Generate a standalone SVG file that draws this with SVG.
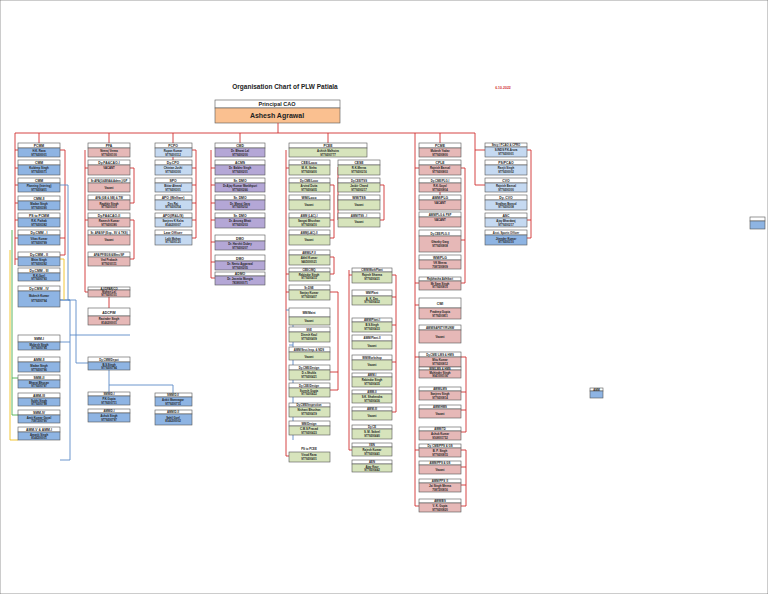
<svg xmlns="http://www.w3.org/2000/svg" width="768" height="594" viewBox="0 0 768 594">
<style>
rect{stroke:#555;stroke-width:.6}
.t{fill:#fff}.b{fill:#8EB4E3}.p{fill:#E6B8B7}.l{fill:#C5D9F1}.v{fill:#B4A7D6}.g{fill:#D7E4BC}.o{fill:#FAC090}
text{font-family:"Liberation Sans",Arial,sans-serif;font-weight:bold;text-anchor:middle;fill:#222}
.s{font-size:3.4px}.x{font-size:2.8px}
.c path{fill:none;stroke:#D03030;stroke-width:.9}
.c .bl{stroke:#5B8BC7}.c .gr{stroke:#4CAF50}.c .ye{stroke:#F0C020}
</style>
<rect width="768" height="594" fill="#fff" stroke="none"/>
<text x="285" y="89" style="font-size:6.5px">Organisation Chart of PLW Patiala</text>
<text x="503" y="89" style="font-size:3.5px;fill:#D03030">6.10.2022</text>
<g id="cao"><rect class="t" x="215" y="100" width="125" height="8"/><rect class="o" x="215" y="108" width="125" height="15"/><text x="277" y="106" style="font-size:5.5px">Principal CAO</text><text x="277" y="118" style="font-size:7px">Ashesh Agrawal</text></g>
<g class="c">
<path d="M278,123V133M15,133H475M39,133V143M109,133V143M173,133V143M240,133V143M328,133V143M440,133V143"/>
<path d="M15,133V265M15,150H18M15,168H18M15,185H18M15,203H18M15,220H18M15,238H18M15,259H18"/>
<path d="M60,150H65V255H60M60,238H65"/>
<path d="M85,150V292H88M85,168H88M85,220H88M130,168H134V203H130M130,220H134V259H130M109,297V308"/>
<path d="M192,150H196V238H192M192,168H196M192,185H196M192,203H196M192,220H196M173,157V160"/>
<path d="M211,150V278H215M211,168H215M211,185H215M211,203H215M211,220H215M211,242H215M211,262H215"/>
<path d="M286,150V456H289M286,168H289M286,274H289M286,292H289M330,185H334V238H330M330,220H334M330,257H334V274H330"/>
<path d="M330,292H338V390H330M330,372H338M338,167V220H338M380,185H384V220H380"/>
<path d="M349,270V450H352M349,275H352M392,275H396V412H392M392,297H396M392,325H396M392,362H396"/>
<path d="M415,133V506H419M415,168H419M415,283H419M415,305H419M415,357H419M415,450H419M461,168H465V283H461M461,240H465M440,185V195M461,357H466V432H461M461,392H466M461,410H466M461,450H466V506H461M461,467H466M461,485H466"/>
<path d="M475,133V185H485M475,150H485M527,150H531V238H527M527,220H531"/>
<path class="bl" d="M60,185H68V300H70V460H60M60,300H70M60,342H70M130,335H70M88,363H76V300H60M109,370V385H173V397M109,385V392"/>
<path class="gr" d="M12,230V415H18M12,378H18"/>
<path class="ye" d="M60,259H64V300M10,250V440H18"/>
<path class="bl" d="M286,310H293V440M289,345H293M289,373H293"/>
</g>
<g id="n1"><rect class="t" x="18" y="143" width="42" height="5"/><rect class="b" x="18" y="148" width="42" height="9"/><text class="s" x="39" y="147">PCMM</text><text class="x" x="39" y="152">H.K. Rana</text><text class="x" x="39" y="155.5">9779200001</text></g>
<g id="n2"><rect class="t" x="18" y="160" width="42" height="5"/><rect class="b" x="18" y="165" width="42" height="10"/><text class="s" x="39" y="164">CMM</text><text class="x" x="39" y="169">Kuldeep Singh</text><text class="x" x="39" y="173">9779200071</text></g>
<g id="n3"><rect class="t" x="18" y="178" width="42" height="5"/><rect class="b" x="18" y="183" width="42" height="9"/><text class="s" x="39" y="182">CMM</text><text class="x" x="39" y="187">Planning (Intering)</text><text class="x" x="39" y="190.5">9779200401</text></g>
<g id="n4"><rect class="t" x="18" y="196" width="42" height="5"/><rect class="b" x="18" y="201" width="42" height="9"/><text class="s" x="39" y="200">CMM-II</text><text class="x" x="39" y="205">Madan Singh</text><text class="x" x="39" y="208.5">9779200390</text></g>
<g id="n5"><rect class="t" x="18" y="213" width="42" height="5"/><rect class="b" x="18" y="218" width="42" height="9"/><text class="s" x="39" y="217">PS to PCMM</text><text class="x" x="39" y="222">R.K. Pathak</text><text class="x" x="39" y="225.5">9779200382</text></g>
<g id="n6"><rect class="t" x="18" y="230" width="42" height="5"/><rect class="b" x="18" y="235" width="42" height="10"/><text class="s" x="39" y="234">Dy.CMM - I</text><text class="x" x="39" y="240">Vikas Kumar</text><text class="x" x="39" y="243.5">9779200799</text></g>
<g id="n7"><rect class="t" x="18" y="252" width="42" height="5"/><rect class="b" x="18" y="257" width="42" height="9"/><text class="s" x="39" y="256">Dy.CMM - II</text><text class="x" x="39" y="261">Bhim Singh</text><text class="x" x="39" y="264.5">9779200392</text></g>
<g id="n8"><rect class="t" x="18" y="268" width="42" height="5"/><rect class="b" x="18" y="273" width="42" height="8"/><text class="s" x="39" y="272">Dy.CMM - III</text><text class="x" x="39" y="277">R.K.Goel</text><text class="x" x="39" y="280">9779200793</text></g>
<g id="n9"><rect class="t" x="18" y="286" width="42" height="5"/><rect class="b" x="18" y="291" width="42" height="16"/><text class="s" x="39" y="290">Dy.CMM - IV</text><text class="x" x="39" y="297">Mukesh Kumar</text><text class="x" x="39" y="302">9779200794</text></g>
<g id="n10"><rect class="t" x="18" y="335" width="42" height="7"/><rect class="b" x="18" y="342" width="42" height="8"/><text class="s" x="39" y="340">SMM-I</text><text class="x" x="39" y="345.5">Mukesh Singh</text><text class="x" x="39" y="349">9779200795</text></g>
<g id="n11"><rect class="t" x="18" y="357" width="42" height="5"/><rect class="b" x="18" y="362" width="42" height="10"/><text class="s" x="39" y="361">AMM-II</text><text class="x" x="39" y="367">Madan Singh</text><text class="x" x="39" y="370.5">9779200796</text></g>
<g id="n12"><rect class="t" x="18" y="375" width="42" height="5"/><rect class="b" x="18" y="380" width="42" height="8"/><text class="s" x="39" y="379">SMM-II</text><text class="x" x="39" y="383.5">Bharat Bhusan</text><text class="x" x="39" y="387">9779200797</text></g>
<g id="n13"><rect class="t" x="18" y="393" width="42" height="5"/><rect class="b" x="18" y="398" width="42" height="8"/><text class="s" x="39" y="397">AMM-III</text><text class="x" x="39" y="401.5">Sukhi Singh</text><text class="x" x="39" y="405">9779200798</text></g>
<g id="n14"><rect class="t" x="18" y="410" width="42" height="5"/><rect class="b" x="18" y="415" width="42" height="8"/><text class="s" x="39" y="414">SMM-IV</text><text class="x" x="39" y="418.5">Amit Kumar Goyal</text><text class="x" x="39" y="422">7087200790</text></g>
<g id="n15"><rect class="t" x="18" y="427" width="42" height="5"/><rect class="b" x="18" y="432" width="42" height="8"/><text class="s" x="39" y="431">AMM-V &amp; AMM-I</text><text class="x" x="39" y="435.5">Amarjit Singh</text><text class="x" x="39" y="439">8146200001</text></g>
<g id="n16"><rect class="t" x="88" y="143" width="42" height="5"/><rect class="p" x="88" y="148" width="42" height="9"/><text class="s" x="109" y="147">PFA</text><text class="x" x="109" y="152">Neeraj Verma</text><text class="x" x="109" y="155.5">9779200100</text></g>
<g id="n17"><rect class="t" x="88" y="160" width="42" height="5"/><rect class="p" x="88" y="165" width="42" height="10"/><text class="s" x="109" y="164">Dy.FA&amp;CAO-I</text><text class="x" x="109" y="169">VACANT</text></g>
<g id="n18"><rect class="t" x="88" y="178" width="42" height="5"/><rect class="p" x="88" y="183" width="42" height="9"/><text class="x" x="109" y="182">Sr.AFA(G&amp;BSA&amp;Admn.)/GP</text><text class="x" x="109" y="188.5">Vacant</text></g>
<g id="n19"><rect class="t" x="88" y="195" width="42" height="5"/><rect class="p" x="88" y="200" width="42" height="10"/><text class="x" x="109" y="199">AFA (GB &amp; SB) &amp; TW</text><text class="x" x="109" y="204.5">Raghbir Singh</text><text class="x" x="109" y="208">9779200110</text></g>
<g id="n20"><rect class="t" x="88" y="213" width="42" height="5"/><rect class="p" x="88" y="218" width="42" height="9"/><text class="s" x="109" y="217">Dy.FA&amp;CAO-II</text><text class="x" x="109" y="222">Ramesh Kumar</text><text class="x" x="109" y="225.5">9779200380</text></g>
<g id="n21"><rect class="t" x="88" y="230" width="42" height="5"/><rect class="p" x="88" y="235" width="42" height="10"/><text class="x" x="109" y="234">Sr. AFA/SF (Exp., SV &amp; TKS)</text><text class="x" x="109" y="241">Vacant</text></g>
<g id="n22"><rect class="t" x="88" y="252" width="42" height="5"/><rect class="p" x="88" y="257" width="42" height="9"/><text class="x" x="109" y="256">AFA/PF/EGS/&amp;Wms/SF</text><text class="x" x="109" y="261">Ved Prakash</text><text class="x" x="109" y="264.5">9779200111</text></g>
<g id="n23"><rect class="t" x="88" y="287" width="42" height="3"/><rect class="p" x="88" y="290" width="42" height="7"/><text class="x" x="109" y="289.5">A-I/DPAR/CO</text><text class="x" x="109" y="293">Mohan Lal</text><text class="x" x="109" y="296">9779200101</text></g>
<g id="n24"><rect class="t" x="88" y="308" width="42" height="8"/><rect class="p" x="88" y="316" width="42" height="9"/><text class="s" x="109" y="314">ADCP/M</text><text class="x" x="109" y="320">Ravinder Singh</text><text class="x" x="109" y="323.5">8146200001</text></g>
<g id="n25"><rect class="t" x="88" y="357" width="42" height="5"/><rect class="b" x="88" y="362" width="42" height="8"/><text class="x" x="109" y="361">Dy.CMM/Depot</text><text class="x" x="109" y="365.5">B.S.Singh</text><text class="x" x="109" y="369">9779200794</text></g>
<g id="n26"><rect class="t" x="88" y="392" width="42" height="4"/><rect class="b" x="88" y="396" width="42" height="9"/><text class="x" x="109" y="395">SMM/D-I</text><text class="x" x="109" y="400">P.K.Gupta</text><text class="x" x="109" y="403.5">9779200711</text></g>
<g id="n27"><rect class="t" x="88" y="409" width="42" height="4"/><rect class="b" x="88" y="413" width="42" height="9"/><text class="x" x="109" y="412">AMM/D-I</text><text class="x" x="109" y="417">Ashok Singh</text><text class="x" x="109" y="420.5">9779200797</text></g>
<g id="n28"><rect class="t" x="155" y="393" width="37" height="4"/><rect class="b" x="155" y="397" width="37" height="9"/><text class="x" x="173" y="396">SMM/D-II</text><text class="x" x="173" y="401">Ankit Mamnagar</text><text class="x" x="173" y="404.5">9779200715</text></g>
<g id="n29"><rect class="t" x="155" y="410" width="37" height="4"/><rect class="b" x="155" y="414" width="37" height="11"/><text class="x" x="173" y="413">AMM/D-II</text><text class="x" x="173" y="418.5">Sahil Goel</text><text class="x" x="173" y="422">8146200002</text></g>
<g id="n30"><rect class="t" x="155" y="143" width="37" height="5"/><rect class="l" x="155" y="148" width="37" height="9"/><text class="s" x="173" y="147">PCPO</text><text class="x" x="173" y="152">Rupan Kumar</text><text class="x" x="173" y="155.5">9779200112</text></g>
<g id="n31"><rect class="t" x="155" y="160" width="37" height="5"/><rect class="l" x="155" y="165" width="37" height="10"/><text class="s" x="173" y="164">Dy.CPO</text><text class="x" x="173" y="169">Chintan Joshi</text><text class="x" x="173" y="173">9779200300</text></g>
<g id="n32"><rect class="t" x="155" y="178" width="37" height="5"/><rect class="l" x="155" y="183" width="37" height="9"/><text class="s" x="173" y="182">SPO</text><text class="x" x="173" y="187">Bittar Ahmed</text><text class="x" x="173" y="190.5">9779200301</text></g>
<g id="n33"><rect class="t" x="155" y="195" width="37" height="5"/><rect class="l" x="155" y="200" width="37" height="10"/><text class="s" x="173" y="199">APO (Welfare)</text><text class="x" x="173" y="204.5">Des Raj</text><text class="x" x="173" y="208">9779200304</text></g>
<g id="n34"><rect class="t" x="155" y="213" width="37" height="5"/><rect class="l" x="155" y="218" width="37" height="9"/><text class="s" x="173" y="217">APO(IR&amp;L/S)</text><text class="x" x="173" y="222">Sanjeev K Kalra</text><text class="x" x="173" y="225.5">8146200007</text></g>
<g id="n35"><rect class="t" x="155" y="230" width="37" height="5"/><rect class="l" x="155" y="235" width="37" height="10"/><text class="s" x="173" y="234">Law Officer</text><text class="x" x="173" y="239.5">Lalit Mohan</text><text class="x" x="173" y="243">9779200120</text></g>
<g id="n36"><rect class="t" x="215" y="143" width="50" height="5"/><rect class="v" x="215" y="148" width="50" height="9"/><text class="s" x="240" y="147">CMD</text><text class="x" x="240" y="152">Dr. Bharat Lal</text><text class="x" x="240" y="155.5">9779200200</text></g>
<g id="n37"><rect class="t" x="215" y="160" width="50" height="5"/><rect class="v" x="215" y="165" width="50" height="10"/><text class="s" x="240" y="164">ACMS</text><text class="x" x="240" y="169">Dr. Baldev Singh</text><text class="x" x="240" y="173">9779200201</text></g>
<g id="n38"><rect class="t" x="215" y="178" width="50" height="5"/><rect class="v" x="215" y="183" width="50" height="9"/><text class="s" x="240" y="182">Sr. DMO</text><text class="x" x="240" y="187">Dr.Ajay Kumar Mankhpuri</text><text class="x" x="240" y="190.5">9779200266</text></g>
<g id="n39"><rect class="t" x="215" y="195" width="50" height="5"/><rect class="v" x="215" y="200" width="50" height="10"/><text class="s" x="240" y="199">Sr. DMO</text><text class="x" x="240" y="204.5">Dr. Manoj Garg</text><text class="x" x="240" y="208">9779200202</text></g>
<g id="n40"><rect class="t" x="215" y="213" width="50" height="5"/><rect class="v" x="215" y="218" width="50" height="10"/><text class="s" x="240" y="217">Sr. DMO</text><text class="x" x="240" y="222">Dr. Anurag Bhatt</text><text class="x" x="240" y="226">9779200203</text></g>
<g id="n41"><rect class="t" x="215" y="235" width="50" height="6"/><rect class="v" x="215" y="241" width="50" height="9"/><text class="s" x="240" y="240">DMO</text><text class="x" x="240" y="245">Dr. Harshit Dubey</text><text class="x" x="240" y="248.5">9779200207</text></g>
<g id="n42"><rect class="t" x="215" y="255" width="50" height="6"/><rect class="v" x="215" y="261" width="50" height="9"/><text class="s" x="240" y="260">DMO</text><text class="x" x="240" y="265">Dr. Neetu Aggarwal</text><text class="x" x="240" y="268.5">9779200205</text></g>
<g id="n43"><rect class="t" x="215" y="272" width="50" height="4"/><rect class="v" x="215" y="276" width="50" height="9"/><text class="s" x="240" y="275">ADMO</text><text class="x" x="240" y="280">Dr. Jasmita Mongia</text><text class="x" x="240" y="283.5">7838000071</text></g>
<g id="n44"><rect class="t" x="289" y="143" width="78" height="5"/><rect class="g" x="289" y="148" width="78" height="9"/><text class="s" x="328" y="147">PCEE</text><text class="x" x="328" y="152">Ashish Malhotra</text><text class="x" x="328" y="155.5">9779200777</text></g>
<g id="n45"><rect class="t" x="289" y="160" width="41" height="5"/><rect class="g" x="289" y="165" width="41" height="10"/><text class="s" x="309" y="164">CEE/Loco</text><text class="x" x="309" y="169">M. K. Sinha</text><text class="x" x="309" y="173">9779200400</text></g>
<g id="n46"><rect class="t" x="289" y="178" width="41" height="5"/><rect class="g" x="289" y="183" width="41" height="9"/><text class="x" x="309" y="182">Dy.CME/Loco</text><text class="x" x="309" y="187">Arvind Dutta</text><text class="x" x="309" y="190.5">9779200405</text></g>
<g id="n47"><rect class="t" x="289" y="195" width="41" height="5"/><rect class="g" x="289" y="200" width="41" height="10"/><text class="s" x="309" y="199">WM/Loco</text><text class="x" x="309" y="206">Vacant</text></g>
<g id="n48"><rect class="t" x="289" y="213" width="41" height="5"/><rect class="g" x="289" y="218" width="41" height="9"/><text class="x" x="309" y="217">AWM (LAC)-I</text><text class="x" x="309" y="222">Sangat Bhushan</text><text class="x" x="309" y="225.5">9779200410</text></g>
<g id="n49"><rect class="t" x="289" y="230" width="41" height="5"/><rect class="g" x="289" y="235" width="41" height="10"/><text class="x" x="309" y="234">AWM(LAC)-II</text><text class="x" x="309" y="241">Vacant</text></g>
<g id="n50"><rect class="t" x="289" y="250" width="41" height="5"/><rect class="g" x="289" y="255" width="41" height="10"/><text class="x" x="309" y="254">AWM/LP-II</text><text class="x" x="309" y="259">Akhil Kumar</text><text class="x" x="309" y="263">9465000021</text></g>
<g id="n51"><rect class="t" x="289" y="268" width="41" height="4"/><rect class="g" x="289" y="272" width="41" height="9"/><text class="x" x="309" y="271">CEEC/MQ</text><text class="x" x="309" y="275.5">Rabindar Singh</text><text class="x" x="309" y="279">9779200415</text></g>
<g id="n52"><rect class="t" x="289" y="285" width="41" height="5"/><rect class="g" x="289" y="290" width="41" height="10"/><text class="x" x="309" y="289">Sr.DSE</text><text class="x" x="309" y="294">Sanjay Kumar</text><text class="x" x="309" y="298">9779200407</text></g>
<g id="n53"><rect class="t" x="289" y="308" width="41" height="9"/><rect class="g" x="289" y="317" width="41" height="8"/><text class="x" x="309" y="314">WM/Maint</text><text class="x" x="309" y="322">Vacant</text></g>
<g id="n54"><rect class="t" x="289" y="327" width="41" height="5"/><rect class="g" x="289" y="332" width="41" height="10"/><text class="x" x="309" y="331">SSE</text><text class="x" x="309" y="336">Dinesh Kaul</text><text class="x" x="309" y="340">9779200409</text></g>
<g id="n55"><rect class="t" x="289" y="347" width="41" height="5"/><rect class="g" x="289" y="352" width="41" height="8"/><text class="x" x="309" y="351">AWM/Sect.Insp. &amp; NDS</text><text class="x" x="309" y="357.5">Vacant</text></g>
<g id="n56"><rect class="t" x="289" y="365" width="41" height="5"/><rect class="g" x="289" y="370" width="41" height="10"/><text class="x" x="309" y="369">Dy.CME/Design</text><text class="x" x="309" y="374">D.s.Shukla</text><text class="x" x="309" y="378">9779200421</text></g>
<g id="n57"><rect class="t" x="289" y="383" width="41" height="5"/><rect class="g" x="289" y="388" width="41" height="9"/><text class="x" x="309" y="387">Dy.CEE/Design</text><text class="x" x="309" y="391.5">Suresh Gupta</text><text class="x" x="309" y="395">9779200422</text></g>
<g id="n58"><rect class="t" x="289" y="403" width="41" height="4"/><rect class="g" x="289" y="407" width="41" height="10"/><text class="x" x="309" y="406">Dy.CME/Inspection</text><text class="x" x="309" y="411">Nishant Bhushan</text><text class="x" x="309" y="415">9779200419</text></g>
<g id="n59"><rect class="t" x="289" y="421" width="41" height="5"/><rect class="g" x="289" y="426" width="41" height="9"/><text class="x" x="309" y="425">WM/Design</text><text class="x" x="309" y="430">C.M.S.Prasad</text><text class="x" x="309" y="433.5">9779200423</text></g>
<g id="n60"><rect class="t" x="289" y="446" width="41" height="6" stroke="none" style="stroke:none"/><rect class="g" x="289" y="452" width="41" height="10"/><text class="x" x="309" y="450">PS to PCEE</text><text class="x" x="309" y="456">Vinod Rana</text><text class="x" x="309" y="460">9779200401</text></g>
<g id="n61"><rect class="t" x="338" y="160" width="42" height="5"/><rect class="g" x="338" y="165" width="42" height="10"/><text class="s" x="359" y="164">CESE</text><text class="x" x="359" y="169">R.K.Meena</text><text class="x" x="359" y="173">9779200216</text></g>
<g id="n62"><rect class="t" x="338" y="178" width="42" height="5"/><rect class="g" x="338" y="183" width="42" height="9"/><text class="x" x="359" y="182">Dy.CEE/TSS</text><text class="x" x="359" y="187">Jasbir Chand</text><text class="x" x="359" y="190.5">9779200217</text></g>
<g id="n63"><rect class="t" x="338" y="195" width="42" height="5"/><rect class="g" x="338" y="200" width="42" height="10"/><text class="s" x="359" y="199">WM/TSS</text><text class="x" x="359" y="206">Vacant</text></g>
<g id="n64"><rect class="t" x="338" y="213" width="42" height="5"/><rect class="g" x="338" y="218" width="42" height="9"/><text class="x" x="359" y="217">AWM/TSS - I</text><text class="x" x="359" y="223">Vacant</text></g>
<g id="n65"><rect class="t" x="352" y="268" width="40" height="4"/><rect class="g" x="352" y="272" width="40" height="11"/><text class="x" x="372" y="271">CWM/WorkPlant</text><text class="x" x="372" y="276">Rajesh Sharma</text><text class="x" x="372" y="280">9779200431</text></g>
<g id="n66"><rect class="t" x="352" y="290" width="40" height="6"/><rect class="g" x="352" y="296" width="40" height="9"/><text class="x" x="372" y="294">WM/Plant</text><text class="x" x="372" y="299.5">A. K. Das</text><text class="x" x="372" y="303">9779200432</text></g>
<g id="n67"><rect class="t" x="352" y="318" width="40" height="4"/><rect class="g" x="352" y="322" width="40" height="10"/><text class="x" x="372" y="321">AWM/Plant-I</text><text class="x" x="372" y="326">B.S.Singh</text><text class="x" x="372" y="330">9779200433</text></g>
<g id="n68"><rect class="t" x="352" y="335" width="40" height="6"/><rect class="g" x="352" y="341" width="40" height="8"/><text class="x" x="372" y="339">AWM/Plant-II</text><text class="x" x="372" y="346.5">Vacant</text></g>
<g id="n69"><rect class="t" x="352" y="355" width="40" height="5"/><rect class="g" x="352" y="360" width="40" height="10"/><text class="x" x="372" y="359">WM/Workshop</text><text class="x" x="372" y="366">Vacant</text></g>
<g id="n70"><rect class="t" x="352" y="373" width="40" height="4"/><rect class="g" x="352" y="377" width="40" height="10"/><text class="x" x="372" y="376">AWM-I</text><text class="x" x="372" y="381">Rabindar Singh</text><text class="x" x="372" y="385">9779200435</text></g>
<g id="n71"><rect class="t" x="352" y="390" width="40" height="4"/><rect class="g" x="352" y="394" width="40" height="9"/><text class="x" x="372" y="393">AWM-II</text><text class="x" x="372" y="398">S.K. Shahendra</text><text class="x" x="372" y="401.5">9779200436</text></g>
<g id="n72"><rect class="t" x="352" y="407" width="40" height="4"/><rect class="g" x="352" y="411" width="40" height="9"/><text class="x" x="372" y="410">AWM-III</text><text class="x" x="372" y="417">Vacant</text></g>
<g id="n73"><rect class="t" x="352" y="425" width="40" height="4"/><rect class="g" x="352" y="429" width="40" height="10"/><text class="x" x="372" y="428">Dy.CE</text><text class="x" x="372" y="433">S. M. Sakeel</text><text class="x" x="372" y="437">9779200440</text></g>
<g id="n74"><rect class="t" x="352" y="443" width="40" height="4"/><rect class="g" x="352" y="447" width="40" height="9"/><text class="x" x="372" y="446">XEN</text><text class="x" x="372" y="451">Rajesh Kumar</text><text class="x" x="372" y="454.5">9779200441</text></g>
<g id="n75"><rect class="t" x="352" y="460" width="40" height="4"/><rect class="g" x="352" y="464" width="40" height="8"/><text class="x" x="372" y="463">AEN</text><text class="x" x="372" y="467.5">Ajay Kaur</text><text class="x" x="372" y="471">9779200442</text></g>
<g id="n76"><rect class="t" x="419" y="143" width="42" height="5"/><rect class="p" x="419" y="148" width="42" height="9"/><text class="s" x="440" y="147">PCME</text><text class="x" x="440" y="152">Mukesh Yadav</text><text class="x" x="440" y="155.5">9779200800</text></g>
<g id="n77"><rect class="t" x="419" y="160" width="42" height="5"/><rect class="p" x="419" y="165" width="42" height="10"/><text class="s" x="440" y="164">CPLE</text><text class="x" x="440" y="169">Rajnish Bansal</text><text class="x" x="440" y="173">9779200803</text></g>
<g id="n78"><rect class="t" x="419" y="178" width="42" height="5"/><rect class="p" x="419" y="183" width="42" height="9"/><text class="x" x="440" y="182">Dy.CME/PLG.I</text><text class="x" x="440" y="187">R.K.Goyal</text><text class="x" x="440" y="190.5">9779200804</text></g>
<g id="n79"><rect class="t" x="419" y="195" width="42" height="5"/><rect class="p" x="419" y="200" width="42" height="10"/><text class="s" x="440" y="199">AWM/PLG</text><text class="x" x="440" y="204">VACANT</text></g>
<g id="n80"><rect class="t" x="419" y="212" width="42" height="5"/><rect class="p" x="419" y="217" width="42" height="10"/><text class="x" x="440" y="216">AWM/PLG &amp; PSP</text><text class="x" x="440" y="221">VACANT</text></g>
<g id="n81"><rect class="t" x="419" y="230" width="42" height="6"/><rect class="p" x="419" y="236" width="42" height="16"/><text class="x" x="440" y="234.5">Dy.CEE/PLG-II</text><text class="x" x="440" y="243">Ghanky Garg</text><text class="x" x="440" y="247">9779200808</text></g>
<g id="n82"><rect class="t" x="419" y="255" width="42" height="5"/><rect class="p" x="419" y="260" width="42" height="9"/><text class="s" x="440" y="259">WM/PLG</text><text class="x" x="440" y="264">VK Meena</text><text class="x" x="440" y="267.5">7087200809</text></g>
<g id="n83"><rect class="t" x="419" y="277" width="42" height="4"/><rect class="p" x="419" y="281" width="42" height="9"/><text class="x" x="440" y="280">Rajbhasha Adhikari</text><text class="x" x="440" y="284.5">Mr Sam Singh</text><text class="x" x="440" y="288">9779200810</text></g>
<g id="n84"><rect class="t" x="419" y="298" width="42" height="10"/><rect class="p" x="419" y="308" width="42" height="11"/><text class="s" x="440" y="305">CWI</text><text class="x" x="440" y="313">Pradeep Gupta</text><text class="x" x="440" y="317">9779200811</text></g>
<g id="n85"><rect class="t" x="419" y="325" width="42" height="5"/><rect class="p" x="419" y="330" width="42" height="13"/><text class="x" x="440" y="329">AWM/SAFETY/RUNW</text><text class="x" x="440" y="338">Vacant</text></g>
<g id="n86"><rect class="t" x="419" y="352" width="42" height="5"/><rect class="p" x="419" y="357" width="42" height="10"/><text class="x" x="440" y="356">Dy.CME/ LMS &amp; HMS</text><text class="x" x="440" y="361">Mitu Kumar</text><text class="x" x="440" y="365">9779200812</text></g>
<g id="n87"><rect class="t" x="419" y="367" width="42" height="3"/><rect class="p" x="419" y="370" width="42" height="8"/><text class="x" x="440" y="369.5">WM/LMS &amp; HMS</text><text class="x" x="440" y="373.5">Mohinder Singh</text><text class="x" x="440" y="377">9041000106</text></g>
<g id="n88"><rect class="t" x="419" y="387" width="42" height="4"/><rect class="p" x="419" y="391" width="42" height="9"/><text class="x" x="440" y="390">AWM/LMS</text><text class="x" x="440" y="395">Sanjeev Singh</text><text class="x" x="440" y="398.5">9779200814</text></g>
<g id="n89"><rect class="t" x="419" y="405" width="42" height="4"/><rect class="p" x="419" y="409" width="42" height="9"/><text class="x" x="440" y="408">AWM/HMS</text><text class="x" x="440" y="415">Vacant</text></g>
<g id="n90"><rect class="t" x="419" y="427" width="42" height="4"/><rect class="p" x="419" y="431" width="42" height="9"/><text class="x" x="440" y="430">AWM/TD</text><text class="x" x="440" y="435">Ashok Kumar</text><text class="x" x="440" y="438.5">9168001752</text></g>
<g id="n91"><rect class="t" x="419" y="444" width="42" height="4"/><rect class="p" x="419" y="448" width="42" height="9"/><text class="x" x="440" y="447">Dy. CME/PPS &amp; GS</text><text class="x" x="440" y="452">B. P. Singh</text><text class="x" x="440" y="455.5">9779200815</text></g>
<g id="n92"><rect class="t" x="419" y="461" width="42" height="4"/><rect class="p" x="419" y="465" width="42" height="9"/><text class="x" x="440" y="464">AWM/PPS &amp; GS</text><text class="x" x="440" y="471">Vacant</text></g>
<g id="n93"><rect class="t" x="419" y="479" width="42" height="4"/><rect class="p" x="419" y="483" width="42" height="9"/><text class="x" x="440" y="482">AWM/PPS_II</text><text class="x" x="440" y="487">Jai Singh Meena</text><text class="x" x="440" y="490.5">7087200816</text></g>
<g id="n94"><rect class="t" x="419" y="499" width="42" height="4"/><rect class="p" x="419" y="503" width="42" height="9"/><text class="x" x="440" y="502">AWM/BS</text><text class="x" x="440" y="507">V. K. Gupta</text><text class="x" x="440" y="510.5">9779200820</text></g>
<g id="n95"><rect class="t" x="485" y="143" width="42" height="4"/><rect class="l" x="485" y="147" width="42" height="10"/><text class="x" x="506" y="146">Secy / PCAO &amp; CPRO</text><text class="x" x="506" y="151">S.INDS  P.K.Arora</text><text class="x" x="506" y="155">9779200001</text></g>
<g id="n96"><rect class="t" x="485" y="160" width="42" height="5"/><rect class="l" x="485" y="165" width="42" height="10"/><text class="s" x="506" y="164">PS/PCAO</text><text class="x" x="506" y="169">Ranjit Singh</text><text class="x" x="506" y="173">9779200002</text></g>
<g id="n97"><rect class="t" x="485" y="178" width="42" height="5"/><rect class="l" x="485" y="183" width="42" height="9"/><text class="s" x="506" y="182">CVO</text><text class="x" x="506" y="187">Rajnish Bansal</text><text class="x" x="506" y="190.5">9779200300</text></g>
<g id="n98"><rect class="t" x="485" y="195" width="42" height="5"/><rect class="l" x="485" y="200" width="42" height="10"/><text class="s" x="506" y="199">Dy. CVO</text><text class="x" x="506" y="204.5">Sindhan Bansal</text><text class="x" x="506" y="208">9779200308</text></g>
<g id="n99"><rect class="t" x="485" y="213" width="42" height="5"/><rect class="l" x="485" y="218" width="42" height="9"/><text class="s" x="506" y="217">ASC</text><text class="x" x="506" y="222">Ajay Bhardwaj</text><text class="x" x="506" y="225.5">9779200217</text></g>
<g id="n100"><rect class="t" x="485" y="230" width="42" height="5"/><rect class="b" x="485" y="235" width="42" height="10"/><text class="x" x="506" y="234">Asst. Sports Officer</text><text class="x" x="506" y="239.5">Jitender Kumar</text><text class="x" x="506" y="243">9779200310</text></g>
<g id="n101"><rect class="t" x="750" y="217" width="15" height="4"/><rect class="b" x="750" y="221" width="15" height="8"/></g>
<g id="n102"><rect class="t" x="590" y="388" width="13" height="3"/><rect class="b" x="590" y="391" width="13" height="7"/><text class="x" x="596.5" y="390.5">AMM</text></g>
</svg>
